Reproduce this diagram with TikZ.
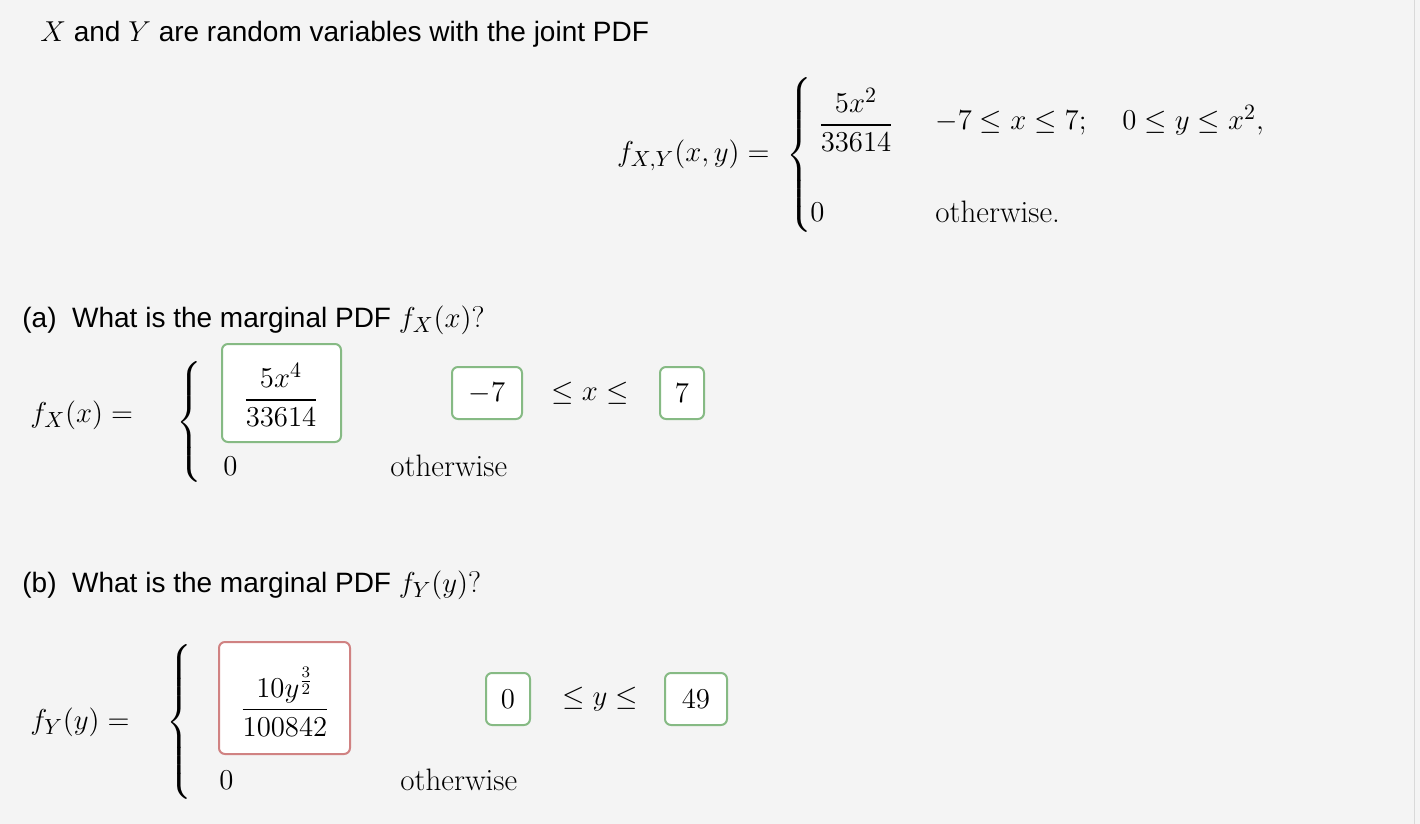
\documentclass[tikz,border=0pt]{standalone}
\usepackage{amsmath}
\usepackage{fontspec}
\setsansfont{Liberation Sans}
\begin{document}
\begin{tikzpicture}[x=0.5pt,y=-0.5pt,
  sans/.style={font=\sffamily\fontsize{14}{17}\selectfont,anchor=west,inner sep=0},
  mth/.style={font=\fontsize{15.5}{18}\selectfont,inner sep=0},
  okbox/.style={draw=okc, line width=1pt, fill=white, rounded corners=3pt},
  badbox/.style={draw=badc, line width=1pt, fill=white, rounded corners=3pt}]
\definecolor{bg}{HTML}{F4F4F4}
\definecolor{okc}{HTML}{86BA84}
\definecolor{badc}{HTML}{D08282}
\fill[bg] (0,0) rectangle (1420,824);
\useasboundingbox (0,0) rectangle (1420,824);
\draw[gray!30] (1414,0) -- (1414,824);
% header
\node[sans] (hd) at (40,34) {{\rmfamily\fontsize{15}{17}\selectfont$X$} and {\rmfamily\fontsize{15}{17}\selectfont$Y$} are random variables with the joint PDF};
\node[mth,anchor=east] (fxy) at (770,155) {$f_{X,Y}(x,y)=$};
\node[mth] (br0) at (800,155) {$\left\{\vrule height 34pt depth 34pt width 0pt\right.$};
\node[mth] (f0) at (856,120) {$\dfrac{5x^2}{33614}$};
\node[mth,anchor=west] (c0) at (935,120) {$-7\le x\le 7;\quad 0\le y\le x^2,$};
\node[mth,anchor=west] (z0) at (810,212) {$0$};
\node[mth,anchor=west] (o0) at (935,212) {otherwise.};
% (a)
\node[sans] (qa) at (22,320) {(a)\ \ What is the marginal PDF {\rmfamily\fontsize{15}{17}\selectfont$f_X(x)$?}};
\node[mth,anchor=west] (fx) at (30,415) {$f_X(x)=$};
\node[mth] (bra) at (190,422) {$\left\{\vrule height 26pt depth 26pt width 0pt\right.$};
\draw[okbox] (222,344) rectangle (341,442);
\node[mth] (fa) at (281,395) {$\dfrac{5x^4}{33614}$};
\draw[okbox] (452,367) rectangle (522,419);
\node[mth] (m7) at (487,393) {$-7$};
\node[mth] (lea) at (590,393) {$\le x\le$};
\draw[okbox] (660,367) rectangle (704,419);
\node[mth] (p7) at (682,393) {$7$};
\node[mth,anchor=west] (za) at (223,466) {$0$};
\node[mth,anchor=west] (oa) at (390,466) {otherwise};
% (b)
\node[sans] (qb) at (22,585) {(b)\ \ What is the marginal PDF {\rmfamily\fontsize{15}{17}\selectfont$f_Y(y)$?}};
\node[mth,anchor=west] (fy) at (30,722) {$f_Y(y)=$};
\node[mth] (brb) at (180,722) {$\left\{\vrule height 34pt depth 34pt width 0pt\right.$};
\draw[badbox] (219,642) rectangle (350,754);
\node[mth] (fb) at (285,702) {$\dfrac{10y^{\frac{3}{2}}}{100842}$};
\draw[okbox] (486,673) rectangle (530,725);
\node[mth] (zb0) at (508,699) {$0$};
\node[mth] (leb) at (600,699) {$\le y\le$};
\draw[okbox] (665,673) rectangle (727,725);
\node[mth] (n49) at (696,699) {$49$};
\node[mth,anchor=west] (zb) at (219,780) {$0$};
\node[mth,anchor=west] (ob) at (400,780) {otherwise};
\end{tikzpicture}
\end{document}
